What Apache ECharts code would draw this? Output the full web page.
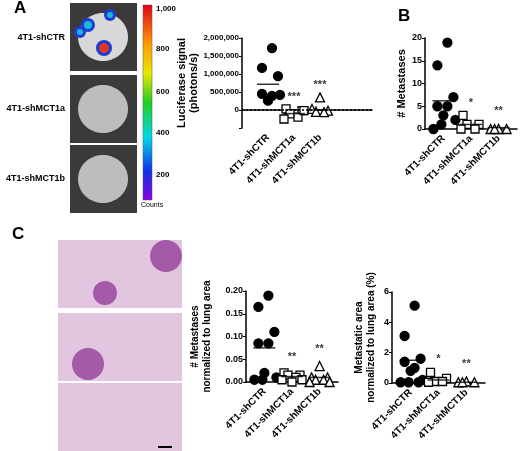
<!DOCTYPE html>
<html>
<head>
<meta charset="utf-8">
<script src="https://cdn.jsdelivr.net/npm/echarts@6/dist/echarts.min.js"></script>
<style>html,body{margin:0;padding:0;background:#fff}#main{width:520px;height:451px}</style>
</head>
<body>
<div id="main"></div>
<script>
// groups
var groups = ['4T1-shCTR', '4T1-shMCT1a', '4T1-shMCT1b'];

// panel A - luciferase signal (photons/s)
var lucCTR = [1720000, 1170000, 940000, 450000, 390000, 260000, 420000];
var lucA = [30000, -20000, -110000, -200000, -250000, -20000];
var lucB = [350000, 30000, -20000, -50000, -60000];
var lucMean = [715000, -100000, 0];
var lucStars = ['', '***', '***'];
var lucStarY = [0, 360000, 690000];

// panel B - # metastases
var metCTR = [19, 14, 7, 5, 5, 3, 2, 1, 0];
var metA = [3, 1, 1, 0, 0];
var metB = [0, 0, 0, 0];
var metMean = [6.2, 1, 0.3];
var metStars = ['', '*', '**'];
var metStarY = [0, 5.7, 4.0];

// panel C - metastases normalized to lung area
var normCTR = [0.19, 0.165, 0.11, 0.085, 0.085, 0.02, 0.01, 0.005, 0.005];
var normA = [0.02, 0.015, 0.015, 0.01, 0.005, 0.005, 0];
var normB = [0.035, 0.01, 0.01, 0.005, 0.005, 0, 0];
var normMean = [0.075, 0.012, 0.01];
var normStars = ['', '**', '**'];
var normStarY = [0, 0.055, 0.072];

// panel C - metastatic area (%)
var areaCTR = [5.1, 3.1, 1.6, 1.4, 1.0, 0.8, 0.2, 0.05, 0.05, 0.05];
var areaA = [0.7, 0.3, 0.1, 0.1, 0.05];
var areaB = [0.1, 0.05, 0.05, 0.05];
var areaMean = [1.5, 0.2, 0.05];
var areaStars = ['', '*', '**'];
var areaStarY = [0, 1.6, 1.25];

// horizontal jitter offsets (px)
var jitCTR = [4, -6, 10, -6, 4, 0, 12, -2, -10, 8];
var jitA = [-8, 8, -4, 4, -10, 10, 0];
var jitB = [0, -8, 8, -4, 4, -10, 10];

var font = 'Liberation Sans';
var chart = echarts.init(document.getElementById('main'));

// panels: grid, category slots, axis settings
var panels = [
  {grid: {left: 242, top: 38, width: 130, height: 90}, n: 11, idx: [2, 4, 6], mw: 22, tick: 8,
   y: {min: -500000, max: 2000000, interval: 500000, fmt: function (v) { return v < 0 ? '' : v.toLocaleString('en-US'); }},
   name: 'Luciferase signal\n(photons/s)', gap: 32, nameSize: 11,
   d: [lucCTR, lucA, lucB], mean: lucMean, stars: lucStars, starY: lucStarY, zero: true},
  {grid: {left: 425, top: 38, width: 92, height: 91}, n: 11, idx: [2, 5, 8], mw: 22, tick: 9,
   y: {min: 0, max: 20, interval: 5, fmt: null},
   name: '# Metastases', gap: 16, nameSize: 11,
   d: [metCTR, metA, metB], mean: metMean, stars: metStars, starY: metStarY},
  {grid: {left: 246, top: 291, width: 92, height: 91}, n: 11, idx: [2, 5, 8], mw: 22, tick: 9,
   y: {min: 0, max: 0.2, interval: 0.05, fmt: function (v) { return v.toFixed(2); }},
   name: '# Metastases\nnormalized to lung area', gap: 33, nameSize: 10,
   d: [normCTR, normA, normB], mean: normMean, stars: normStars, starY: normStarY},
  {grid: {left: 392, top: 292, width: 93, height: 91}, n: 11, idx: [2, 5, 8], mw: 22, tick: 9,
   y: {min: 0, max: 6, interval: 2, fmt: null},
   name: 'Metastatic area\nnormalized to lung area (%)', gap: 15, nameSize: 10,
   d: [areaCTR, areaA, areaB], mean: areaMean, stars: areaStars, starY: areaStarY}
];

var grids = [], xAxes = [], yAxes = [], series = [];
var symbols = [
  {symbol: 'circle', size: 9, color: '#000', border: '#000'},
  {symbol: 'rect', size: 8, color: '#fff', border: '#000'},
  {symbol: 'triangle', size: 9, color: '#fff', border: '#000'}
];
var jits = [jitCTR, jitA, jitB];

panels.forEach(function (p, i) {
  grids.push(p.grid);
  var cats = [];
  for (var k = 0; k < p.n; k++) cats.push('');
  p.idx.forEach(function (ix, g) { cats[ix] = groups[g]; });
  xAxes.push({
    type: 'category', gridIndex: i, data: cats, boundaryGap: false,
    axisLine: {lineStyle: {color: '#000', width: 1.5}}, axisTick: {show: false},
    axisLabel: {rotate: 45, interval: 0, color: '#000', fontFamily: font, fontWeight: 'bold', fontSize: 10, margin: 8}
  });
  yAxes.push({
    type: 'value', gridIndex: i, min: p.y.min, max: p.y.max, interval: p.y.interval,
    splitLine: {show: false},
    axisLine: {show: true, lineStyle: {color: '#000', width: 1.5}},
    axisTick: {show: true, length: 3, lineStyle: {color: '#000'}},
    axisLabel: {color: '#000', fontFamily: font, fontWeight: 'bold', fontSize: p.tick, margin: 3, formatter: p.y.fmt || undefined},
    name: p.name, nameLocation: 'middle', nameRotate: 90, nameGap: p.gap,
    nameTextStyle: {color: '#000', fontFamily: font, fontWeight: 'bold', fontSize: p.nameSize, lineHeight: 12}
  });
  p.d.forEach(function (vals, g) {
    var s = symbols[g];
    series.push({
      type: 'scatter', xAxisIndex: i, yAxisIndex: i, symbol: s.symbol, symbolSize: s.size,
      itemStyle: {color: s.color, borderColor: s.border, borderWidth: 1.3, opacity: 1},
      data: vals.map(function (v, k) {
        return {value: [p.idx[g], v], symbolOffset: [jits[g][k % jits[g].length], 0]};
      }),
      markLine: (p.zero && g === 0) ? {
        silent: true, symbol: 'none', label: {show: false},
        lineStyle: {color: '#000', type: [2, 2], width: 1.5},
        data: [{yAxis: 0}]
      } : undefined,
      z: 3
    });
  });
  // mean bars
  series.push({
    type: 'scatter', xAxisIndex: i, yAxisIndex: i, symbol: 'rect', symbolSize: [p.mw, 1.5],
    itemStyle: {color: '#000'}, z: 4,
    data: p.mean.map(function (m, g) { return [p.idx[g], m]; })
  });
  // significance stars
  series.push({
    type: 'scatter', xAxisIndex: i, yAxisIndex: i, symbolSize: 0, z: 5,
    label: {show: true, position: 'inside', color: '#000', fontFamily: font, fontWeight: 'bold', fontSize: 11,
      formatter: function (pp) { return p.stars[pp.dataIndex]; }},
    data: p.starY.map(function (y, g) { return [p.idx[g], y]; })
  });
});

// image placeholders
var g = [];
function txt(x, y, t, size, align) {
  g.push({type: 'text', style: {x: x, y: y, text: t, fill: '#000', font: 'bold ' + size + 'px ' + font,
    textAlign: align || 'left', textVerticalAlign: 'top'}});
}
txt(14, 0, 'A', 17); txt(398, 8, 'B', 17); txt(12, 226, 'C', 17);
[3, 75, 145].forEach(function (top, k) {
  g.push({type: 'rect', shape: {x: 70, y: top, width: 67, height: 68}, style: {fill: '#3a3a3a'}});
  g.push({type: 'ellipse', shape: {cx: 103, cy: top + 34, rx: 25, ry: 24}, style: {fill: k === 0 ? '#d8d8d8' : '#bdbdbd'}});
});
[[88, 25, 5], [110, 15, 4], [104, 48, 6], [80, 32, 4]].forEach(function (c) {
  g.push({type: 'circle', shape: {cx: c[0], cy: c[1], r: c[2] + 2}, style: {fill: '#1f3bd6'}});
  g.push({type: 'circle', shape: {cx: c[0], cy: c[1], r: c[2] - 1}, style: {fill: c[2] > 5 ? '#e03a1a' : '#18b8d8'}});
});
g.push({type: 'rect', shape: {x: 143, y: 5, width: 9, height: 195},
  style: {fill: new echarts.graphic.LinearGradient(0, 0, 0, 1, [
    {offset: 0, color: '#e0001a'}, {offset: 0.2, color: '#ff9a00'}, {offset: 0.35, color: '#e8e800'},
    {offset: 0.5, color: '#20d020'}, {offset: 0.68, color: '#00d8e8'}, {offset: 0.85, color: '#1030e8'},
    {offset: 1, color: '#8a00e0'}]), stroke: '#555', lineWidth: 0.5}});
[['1,000', 5], ['800', 45], ['600', 88], ['400', 129], ['200', 171]].forEach(function (l) { txt(156, l[1], l[0], 8); });
g.push({type: 'text', style: {x: 141, y: 202, text: 'Counts', fill: '#000', font: '7px ' + font, textVerticalAlign: 'top'}});
txt(65, 33, '4T1-shCTR', 9, 'right');
txt(65, 104, '4T1-shMCT1a', 9, 'right');
txt(65, 174, '4T1-shMCT1b', 9, 'right');
[240, 313, 383].forEach(function (top) {
  g.push({type: 'rect', shape: {x: 58, y: top, width: 124, height: 68}, style: {fill: '#e2c6e0'}});
});
g.push({type: 'circle', shape: {cx: 166, cy: 256, r: 16}, style: {fill: '#a45aa8'}});
g.push({type: 'circle', shape: {cx: 105, cy: 293, r: 12}, style: {fill: '#a45aa8'}});
g.push({type: 'circle', shape: {cx: 88, cy: 364, r: 16}, style: {fill: '#a45aa8'}});
g.push({type: 'rect', shape: {x: 158, y: 446, width: 14, height: 2}, style: {fill: '#000'}});

chart.setOption({
  animation: false,
  textStyle: {fontFamily: font},
  grid: grids, xAxis: xAxes, yAxis: yAxes, series: series, graphic: g
});
</script>
</body>
</html>
